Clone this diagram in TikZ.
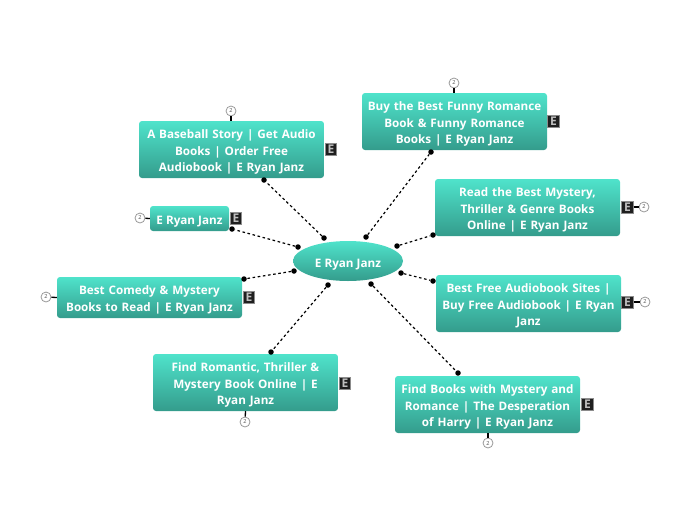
\documentclass[tikz,border=0pt]{standalone}
\usepackage{fontspec}
\setmainfont{Open Sans}
\usetikzlibrary{positioning, arrows.meta, shapes.geometric}
\definecolor{tealtop}{HTML}{4FE3CB}
\definecolor{tealbot}{HTML}{349C8C}
\tikzset{
	topic/.style={rounded corners=3pt,top color=tealtop,bottom color=tealbot,draw=none,align=center,
		text=white,font=\bfseries\fontsize{11.7}{16.5}\selectfont,inner sep=0pt,
		execute at begin node=\rule{0pt}{14pt}},
	root/.style={ellipse,top color=tealtop,bottom color=tealbot,draw=none,text=white,
		font=\bfseries\fontsize{11.7}{16.5}\selectfont,minimum width=110pt,minimum height=40pt,inner sep=0pt,
		execute at begin node=\rule{0pt}{16pt}},
	dot/.style={circle,fill=black,inner sep=0pt,minimum size=5.5pt},
	link/.style={line width=1.2pt,dash pattern=on 2.6pt off 2.6pt},
	stem/.style={line width=1.3pt},
	badge/.style={circle,draw=black!40,fill=white,line width=.8pt,inner sep=0pt,minimum size=10pt,text=black!70,font=\fontsize{5.5}{5.5}\selectfont},
	icon/.style={fill=black!88,draw=black!45,line width=.6pt,text=black!25,inner sep=0pt,minimum width=11.5pt,minimum height=12pt,font=\bfseries\fontsize{12}{12}\selectfont}
}
\begin{document}
\begin{tikzpicture}[x=1pt,y=-1pt]
	\useasboundingbox (0,0) rectangle (696,520);
	% centre
	\node[root] (centre) at (348,261) {E Ryan Janz};
	% topics
	\node[topic,minimum width=185pt,minimum height=57pt,text width=180pt] (funny) at (454.5,121.5) {Buy the Best Funny Romance\\Book \& Funny Romance\\Books | E Ryan Janz};
	\node[topic,minimum width=185pt,minimum height=57pt,text width=180pt] (baseball) at (231.5,149.5) {A Baseball Story | Get Audio\\Books | Order Free\\Audiobook | E Ryan Janz};
	\node[topic,minimum width=79pt,minimum height=25pt] (janz) at (189.5,218.5) {E Ryan Janz};
	\node[topic,minimum width=185pt,minimum height=41pt,text width=180pt] (comedy) at (149.5,297.5) {Best Comedy \& Mystery\\Books to Read | E Ryan Janz};
	\node[topic,minimum width=185pt,minimum height=57pt,text width=180pt] (romantic) at (245.5,382.5) {Find Romantic, Thriller \&\\Mystery Book Online | E\\Ryan Janz};
	\node[topic,minimum width=185pt,minimum height=57pt,text width=180pt] (harry) at (487.5,404.5) {Find Books with Mystery and\\Romance | The Desperation\\of Harry | E Ryan Janz};
	\node[topic,minimum width=185pt,minimum height=57pt,text width=180pt] (audio) at (528.5,303.5) {Best Free Audiobook Sites |\\Buy Free Audiobook | E Ryan\\Janz};
	\node[topic,minimum width=185pt,minimum height=57pt,text width=180pt] (genre) at (527.5,207.5) {Read the Best Mystery,\\Thriller \& Genre Books\\Online | E Ryan Janz};
	% connectors
	\foreach \name/\cx/\cy/\tx/\ty in {funny/366/237/431/152, baseball/324/238/264/180, janz/298/247/232/229,
		comedy/294/271/244/279, romantic/328/285/271/352, harry/371/284/458/373,
		audio/401/273/433/281, genre/397/246/433/235}{
		\node[dot] (\name-a) at (\cx,\cy) {};
		\node[dot] (\name-b) at (\tx,\ty) {};
		\draw[link] (\name-a) -- (\name-b);
	}
	% badges
	\node[badge] (funny-n) at (454,83) {2};
	\draw[stem] (funny-n) -- (funny-n |- funny.north);
	\node[badge] (baseball-n) at (231,111) {2};
	\draw[stem] (baseball-n) -- (baseball-n |- baseball.north);
	\node[badge] (janz-n) at (140,218) {2};
	\draw[stem] (janz-n) -- (janz.west);
	\node[badge] (comedy-n) at (46,297) {2};
	\draw[stem] (comedy-n) -- (comedy.west);
	\node[badge] (romantic-n) at (245,422) {2};
	\draw[stem] (romantic-n) -- (romantic.south);
	\node[badge] (harry-n) at (488,443) {2};
	\draw[stem] (harry-n) -- (harry-n |- harry.south);
	\node[badge] (audio-n) at (645,302) {2};
	\node[badge] (genre-n) at (644,207) {2};
	% icons
	\foreach \name/\ix/\iy in {funny/553.5/121, baseball/331/149, janz/236/218, comedy/249/297,
		romantic/345/383, harry/587.5/404, audio/627.5/302, genre/627.5/207}{
		\node[icon] (\name-e) at (\ix,\iy) {E};
	}
	\draw[stem] (audio-e) -- (audio-n);
	\draw[stem] (genre-e) -- (genre-n);
\end{tikzpicture}
\end{document}
